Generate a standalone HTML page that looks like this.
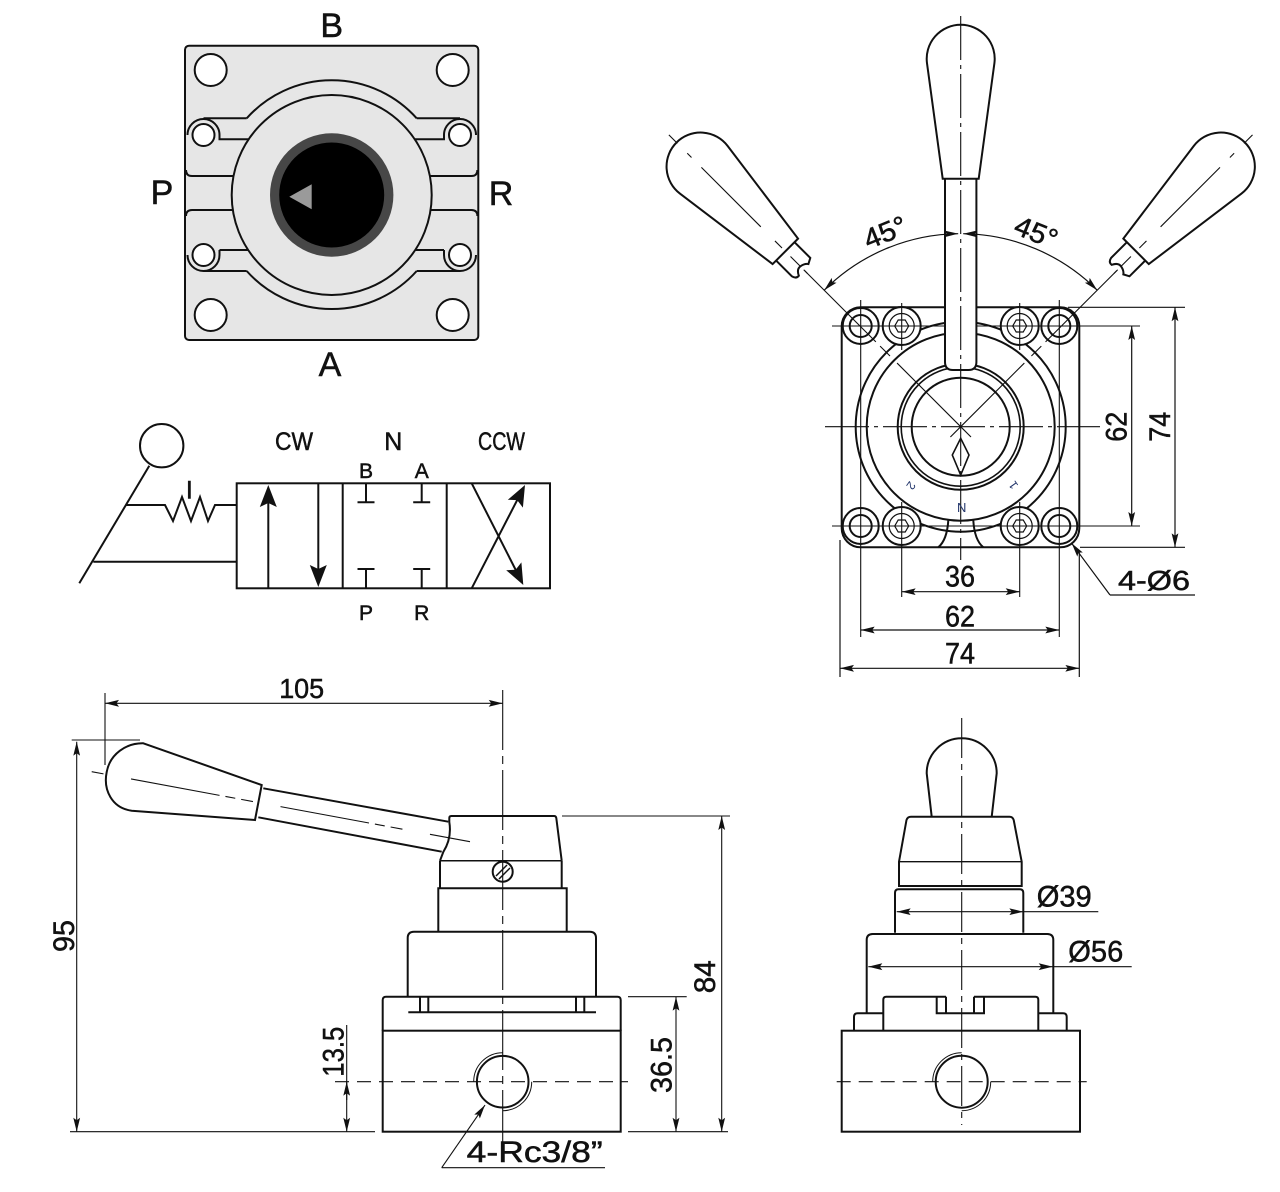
<!DOCTYPE html>
<html><head><meta charset="utf-8"><style>
html,body{margin:0;padding:0;background:#fff;}
svg{display:block;}
text{font-family:"Liberation Sans",sans-serif;fill:#111;stroke:#111;stroke-width:0.5;}
</style></head><body>
<svg width="1280" height="1192" viewBox="0 0 1280 1192" xmlns="http://www.w3.org/2000/svg">
<defs>
<marker id="a" viewBox="0 0 14 8" refX="14" refY="4" markerWidth="14" markerHeight="8" markerUnits="userSpaceOnUse" orient="auto-start-reverse"><path d="M0,0.6 L14,4 L0,7.4 L2.5,4 Z" fill="#111"/></marker>
</defs>

<!-- ============ TOP-LEFT VIEW ============ -->
<g fill="none" stroke="#111" stroke-width="2">
<rect x="185" y="45.7" width="293.3" height="294.3" rx="4" fill="#e6e6e6"/>
<circle cx="210.7" cy="70" r="16" fill="#fff"/>
<circle cx="452.7" cy="70" r="16" fill="#fff"/>
<circle cx="210.7" cy="315" r="16" fill="#fff"/>
<circle cx="452.7" cy="315" r="16" fill="#fff"/>
<path d="M246.7,118.3 A114,114 0 0 1 416.7,118.3"/>
<path d="M246.7,271 A114,114 0 0 0 416.7,271"/>
<circle cx="331.7" cy="195" r="100"/>
<path d="M203.5,118.3 H246.7"/>
<path d="M187.5,135 A16,16 0 0 1 219.5,135 V139.3 H248.6"/>
<path d="M186,170 Q186,176 192,176 H233.5"/>
<path d="M186,216 Q186,210 192,210 H232.8"/>
<path d="M219.5,250 H248.2"/>
<path d="M219.5,250 V255 A16,16 0 0 1 187.5,255"/>
<path d="M203.5,271 H246.7"/>
<circle cx="203.5" cy="135" r="11" fill="#fff"/>
<circle cx="203.5" cy="255" r="11" fill="#fff"/>
<path d="M460,118.3 H416.7"/>
<path d="M476,135 A16,16 0 0 0 444,135 V139.3 H414.8"/>
<path d="M477.4,170 Q477.4,176 471.4,176 H429.9"/>
<path d="M477.4,216 Q477.4,210 471.4,210 H430.6"/>
<path d="M444,250 H415.2"/>
<path d="M444,250 V255 A16,16 0 0 0 476,255"/>
<path d="M460,271 H416.7"/>
<circle cx="460" cy="135" r="11" fill="#fff"/>
<circle cx="460" cy="255" r="11" fill="#fff"/>
<circle cx="331.7" cy="195" r="61.7" fill="#474747" stroke="none"/>
<circle cx="331.7" cy="195" r="52.5" fill="#000" stroke="none"/>
<polygon points="289.3,196.7 311.7,184.3 311.7,209.3" fill="#9a9a9a" stroke="none"/>
</g>
<text x="331.7" y="37" font-size="34" text-anchor="middle">B</text>
<text x="330" y="376" font-size="34" text-anchor="middle">A</text>
<text x="162" y="204" font-size="34" text-anchor="middle">P</text>
<text x="501" y="205" font-size="34" text-anchor="middle">R</text>

<!-- ============ SYMBOL ============ -->
<g fill="none" stroke="#111" stroke-width="2">
<circle cx="161.7" cy="445.7" r="21.7"/>
<line x1="149.3" y1="465.7" x2="79.3" y2="583.3"/>
<polyline points="126,505 165,505 173,521 182,497 191,521 200,497 208,521 215,505 236.7,505"/>
<line x1="93.3" y1="561.7" x2="236.7" y2="561.7"/>
<rect x="236.7" y="483.3" width="313.3" height="105"/>
<line x1="342.7" y1="483.3" x2="342.7" y2="588.3"/>
<line x1="446.7" y1="483.3" x2="446.7" y2="588.3"/>
<line x1="268.3" y1="588.3" x2="268.3" y2="500"/>
<line x1="318.3" y1="483.3" x2="318.3" y2="572"/>
<path d="M366,483.3 V502.3 M357.5,502.3 H374.5"/>
<path d="M421.7,483.3 V502.3 M413.2,502.3 H430.2"/>
<path d="M366,588.3 V569 M357.5,569 H374.5"/>
<path d="M421.7,588.3 V569 M413.2,569 H430.2"/>
<line x1="471.7" y1="483.3" x2="516" y2="570.5"/>
<line x1="471.7" y1="588.3" x2="518" y2="498.5"/>
</g>
<g fill="#111">
<polygon points="268.3,485 259.8,507 268.3,503 276.8,507"/>
<polygon points="318.3,587 309.8,565 318.3,569 326.8,565"/>
<polygon points="523.3,585 521.4,562.4 515.6,569.8 506.2,570.2"/>
<polygon points="525,485 522.9,507.6 517.2,500.1 507.8,499.8"/>
</g>
<text x="275" y="450" font-size="25" textLength="38" lengthAdjust="spacingAndGlyphs">CW</text>
<text x="393.3" y="450" font-size="25" text-anchor="middle">N</text>
<text x="478" y="450" font-size="25" textLength="47" lengthAdjust="spacingAndGlyphs">CCW</text>
<text x="366" y="478" font-size="21" text-anchor="middle">B</text>
<text x="421.7" y="478" font-size="21" text-anchor="middle">A</text>
<text x="366" y="620" font-size="21" text-anchor="middle">P</text>
<text x="421.7" y="620" font-size="21" text-anchor="middle">R</text>
<text x="189.3" y="498.5" font-size="25" text-anchor="middle">I</text>

<!-- ============ TOP-RIGHT VIEW ============ -->
<g fill="none" stroke="#111" stroke-width="2">
<rect x="841.7" y="307.3" width="237.6" height="240" rx="19" fill="#fff"/>
<circle cx="960.7" cy="426.7" r="105"/>
<circle cx="901.7" cy="326" r="19" fill="#fff"/>
<circle cx="1019.7" cy="326" r="19" fill="#fff"/>
<circle cx="901.7" cy="526" r="19" fill="#fff"/>
<circle cx="1019.7" cy="526" r="19" fill="#fff"/>
<circle cx="960.7" cy="426.7" r="94"/>
<circle cx="960.7" cy="426.7" r="63"/>
<circle cx="960.7" cy="426.7" r="59.5" stroke-width="1.6"/>
<circle cx="960.7" cy="426.7" r="49"/>
<circle cx="860.7" cy="326" r="18" fill="#fff"/>
<circle cx="860.7" cy="326" r="11"/>
<circle cx="1059.3" cy="326" r="18" fill="#fff"/>
<circle cx="1059.3" cy="326" r="11"/>
<circle cx="860.7" cy="526" r="18" fill="#fff"/>
<circle cx="860.7" cy="526" r="11"/>
<circle cx="1059.3" cy="526" r="18" fill="#fff"/>
<circle cx="1059.3" cy="526" r="11"/>
<g stroke-width="1.2">
<circle cx="901.7" cy="326" r="12.5"/>
<circle cx="1019.7" cy="326" r="12.5"/>
<circle cx="901.7" cy="526" r="12.5"/>
<circle cx="1019.7" cy="526" r="12.5"/>
<polygon points="908.7,326 905.2,332 898.2,332 894.7,326 898.2,320 905.2,320"/>
<polygon points="1026.7,326 1023.2,332 1016.2,332 1012.7,326 1016.2,320 1023.2,320"/>
<polygon points="908.7,526 905.2,532 898.2,532 894.7,526 898.2,520 905.2,520"/>
<polygon points="1026.7,526 1023.2,532 1016.2,532 1012.7,526 1016.2,520 1023.2,520"/>
</g>
<path d="M948.3,520.5 Q947,540 938.3,547.3"/>
<path d="M973.3,520.5 Q974.5,540 983.3,547.3"/>
<path d="M960.7,438.3 L969,455 L960.7,475 L952.3,455 Z" stroke-width="1.6"/>
</g>
<g fill="none" stroke="#111" stroke-width="1.1">
<line x1="825" y1="426.7" x2="1100" y2="426.7" stroke-dasharray="44 5 4 5"/>
<line x1="832" y1="326" x2="1140" y2="326"/>
<line x1="832" y1="526" x2="1140" y2="526"/>
<line x1="860.7" y1="300" x2="860.7" y2="637"/>
<line x1="1059.3" y1="300" x2="1059.3" y2="637"/>
<path d="M901.7,303 V350 M901.7,502 V597 M1019.7,303 V350 M1019.7,502 V597"/>
<line x1="960.7" y1="426.7" x2="971" y2="437"/>
<line x1="960.7" y1="426.7" x2="950.4" y2="437"/>
</g>
<g fill="#fff" stroke="#111" stroke-width="2">
<path d="M945,170 V362 Q945,370 953,370 H968.4 Q976.4,370 976.4,362 V170"/>
<path d="M942.7,178.7 L927,63.3 A34,34 0 1 1 994.4,63.3 L978.7,178.7 Z"/>
</g>
<line x1="960.7" y1="16" x2="960.7" y2="560" stroke="#111" stroke-width="1.1" stroke-dasharray="44 5 4 5"/>
<g transform="rotate(-45 960.7 426.7)" fill="none" stroke="#111">
<path d="M960.7,426.7 V204.7" stroke-width="1.1" stroke-dasharray="90 10 14 6 400"/>
<path d="M947.7,178.7 V201 Q948.7,206 953,205.5 Q956,199 961,200 Q966,201 968,204 L973.7,201 V178.7" fill="#fff" stroke-width="2"/>
<path d="M942.7,178.7 L927,63.3 A34,34 0 1 1 994.4,63.3 L978.7,178.7 Z" fill="#fff" stroke-width="2"/>
<path d="M960.7,14 V210" stroke-width="1.1" stroke-dasharray="12 14 6 14 84 20 10"/>
</g>
<g transform="rotate(45 960.7 426.7)" fill="none" stroke="#111">
<path d="M960.7,426.7 V204.7" stroke-width="1.1" stroke-dasharray="90 10 14 6 400"/>
<path d="M947.7,178.7 V201 Q948.7,206 953,205.5 Q956,199 961,200 Q966,201 968,204 L973.7,201 V178.7" fill="#fff" stroke-width="2"/>
<path d="M942.7,178.7 L927,63.3 A34,34 0 1 1 994.4,63.3 L978.7,178.7 Z" fill="#fff" stroke-width="2"/>
<path d="M960.7,14 V210" stroke-width="1.1" stroke-dasharray="12 14 6 14 84 20 10"/>
</g>
<g fill="none" stroke="#111" stroke-width="1.2">
<path d="M824.2,290.2 A193,193 0 0 1 958.2,233.7" marker-start="url(#a)" marker-end="url(#a)"/>
<path d="M963.2,233.7 A193,193 0 0 1 1097.2,290.2" marker-start="url(#a)" marker-end="url(#a)"/>
</g>
<text transform="translate(885,232) rotate(-22)" x="0" y="10" font-size="28" text-anchor="middle" textLength="44" lengthAdjust="spacingAndGlyphs">45°</text>
<text transform="translate(1036.4,232) rotate(22)" x="0" y="10" font-size="28" text-anchor="middle" textLength="44" lengthAdjust="spacingAndGlyphs">45°</text>
<text x="961.7" y="512" font-size="13" text-anchor="middle" style="fill:#22356b;stroke:none">N</text>
<text transform="translate(907.7,483.3) rotate(125)" font-size="12" text-anchor="middle" style="fill:#22356b;stroke:none">2</text>
<text transform="translate(1016.7,482.7) rotate(-125)" font-size="12" text-anchor="middle" style="fill:#22356b;stroke:none">1</text>

<g fill="none" stroke="#111" stroke-width="1.2">
<path d="M1131.7,326 V526" marker-start="url(#a)" marker-end="url(#a)"/>
<path d="M1175,307.3 V547.3" marker-start="url(#a)" marker-end="url(#a)"/>
<line x1="1068" y1="307.3" x2="1185" y2="307.3"/>
<line x1="1080" y1="547.3" x2="1185" y2="547.3"/>
<line x1="840" y1="540" x2="840" y2="677"/>
<line x1="1079.3" y1="552" x2="1079.3" y2="677"/>
<path d="M901.7,591.7 H1019.7" marker-start="url(#a)" marker-end="url(#a)"/>
<path d="M860.7,630 H1059.3" marker-start="url(#a)" marker-end="url(#a)"/>
<path d="M840,668.3 H1079.3" marker-start="url(#a)" marker-end="url(#a)"/>
<path d="M1110,595 L1071.7,543.3" marker-end="url(#a)"/>
<path d="M1110,595 H1195"/>
</g>
<text transform="translate(1126.7,426.7) rotate(-90)" font-size="30" text-anchor="middle" textLength="30" lengthAdjust="spacingAndGlyphs">62</text>
<text transform="translate(1170,426.7) rotate(-90)" font-size="30" text-anchor="middle" textLength="30" lengthAdjust="spacingAndGlyphs">74</text>
<text x="960" y="586.7" font-size="30" text-anchor="middle" textLength="30" lengthAdjust="spacingAndGlyphs">36</text>
<text x="960" y="626.7" font-size="30" text-anchor="middle" textLength="30" lengthAdjust="spacingAndGlyphs">62</text>
<text x="960" y="663.3" font-size="30" text-anchor="middle" textLength="30" lengthAdjust="spacingAndGlyphs">74</text>
<text x="1118" y="590" font-size="28" textLength="72" lengthAdjust="spacingAndGlyphs">4-Ø6</text>

<!-- ============ BOTTOM-LEFT VIEW ============ -->
<g fill="none" stroke="#111" stroke-width="2">
<rect x="382.7" y="1030.7" width="238" height="101"/>
<path d="M382.7,1030.7 V1000 Q382.7,996.7 386,996.7 H617.4 Q620.7,996.7 620.7,1000 V1030.7"/>
<path d="M420,996.7 V1012.3 M428.3,996.7 V1012.3 M576,996.7 V1012.3 M584.3,996.7 V1012.3 M408.3,1012.3 H596"/>
<path d="M407.7,996.7 V938 Q407.7,931.7 414,931.7 H589.7 Q596,931.7 596,938 V996.7"/>
<path d="M438.3,931.7 V888.3 H566.7 V931.7"/>
<path d="M440,888.3 V860.7 M561.7,888.3 V860.7"/>
<line x1="440" y1="860.7" x2="561.7" y2="860.7" stroke-width="1.5"/>
<path d="M440,860.7 L443.3,852 Q452,838 449.3,822 V818 Q449.3,816 451.3,816 H554 Q556,816 556.3,818 L561.7,860.7"/>
<circle cx="502.7" cy="871.7" r="10"/>
<path d="M496,876 L507,865 M499,879 L510,868" stroke-width="1.5"/>
<circle cx="502.7" cy="1081.7" r="25.8"/>
<path d="M473.7,1081.7 A29,29 0 0 1 502.7,1052.7 M531.7,1081.7 A29,29 0 0 1 502.7,1110.7" stroke-width="1"/>
<path d="M143.3,743.3 L261.7,785 L255,820 L131.7,810.7 C112,808 103,790 106.7,772 C110,754 126,743 143.3,743.3 Z" fill="#fff"/>
<path d="M263.3,788.3 L448.3,821.7 M258.3,817.3 L441.7,851.7"/>
</g>
<g fill="none" stroke="#111" stroke-width="1.1">
<line x1="91.7" y1="771.7" x2="470" y2="841.7" stroke-dasharray="12 28 90 6 10 6"/>
<line x1="502.7" y1="690" x2="502.7" y2="1142" stroke-dasharray="60 6 8 6"/>
<line x1="335" y1="1081.7" x2="628" y2="1081.7" stroke-dasharray="14 8"/>
<path d="M105,703.3 H502.7" marker-start="url(#a)" marker-end="url(#a)"/>
<line x1="105" y1="693" x2="105" y2="765"/>
<path d="M76.7,741.7 V1131.7" marker-start="url(#a)" marker-end="url(#a)"/>
<line x1="71.7" y1="740" x2="140" y2="740"/>
<line x1="70" y1="1131.7" x2="375" y2="1131.7"/>
<path d="M346.7,1025 V1131.7" marker-end="url(#a)"/>
<path d="M346.7,1100 V1081.7" marker-end="url(#a)"/>
<path d="M676,996.7 V1131.7" marker-start="url(#a)" marker-end="url(#a)"/>
<line x1="628" y1="996.7" x2="686.7" y2="996.7"/>
<line x1="628" y1="1131.7" x2="728" y2="1131.7"/>
<path d="M721.7,816 V1131.7" marker-start="url(#a)" marker-end="url(#a)"/>
<line x1="562" y1="816" x2="730" y2="816"/>
<path d="M441.7,1167.7 L485,1105" marker-end="url(#a)"/>
<line x1="441.7" y1="1167.7" x2="605" y2="1167.7"/>
</g>
<text x="301.7" y="698" font-size="28" text-anchor="middle" textLength="45" lengthAdjust="spacingAndGlyphs">105</text>
<text transform="translate(74,936) rotate(-90)" font-size="30" text-anchor="middle" textLength="32" lengthAdjust="spacingAndGlyphs">95</text>
<text transform="translate(343.3,1051.7) rotate(-90)" font-size="30" text-anchor="middle" textLength="50" lengthAdjust="spacingAndGlyphs">13.5</text>
<text transform="translate(671.7,1065) rotate(-90)" font-size="30" text-anchor="middle" textLength="56" lengthAdjust="spacingAndGlyphs">36.5</text>
<text transform="translate(715,976.7) rotate(-90)" font-size="30" text-anchor="middle" textLength="33" lengthAdjust="spacingAndGlyphs">84</text>
<text x="466.7" y="1162" font-size="30" textLength="136" lengthAdjust="spacingAndGlyphs">4-Rc3/8”</text>

<!-- ============ BOTTOM-RIGHT VIEW ============ -->
<g fill="none" stroke="#111" stroke-width="2">
<rect x="841.7" y="1030.7" width="238.3" height="101"/>
<path d="M854,1030.7 V1017 Q854,1013.3 857.7,1013.3 H883.3 M1038.3,1013.3 H1063 Q1066.7,1013.3 1066.7,1017 V1030.7"/>
<path d="M883.3,1030.7 V999.7 Q883.3,996.7 886.3,996.7 H946 M974,996.7 H1035.3 Q1038.3,996.7 1038.3,999.7 V1030.7"/>
<path d="M936.7,996.7 V1013.3 H984 V996.7 M946,996.7 V1013.3 M974,996.7 V1013.3"/>
<path d="M866.7,1013.3 V940 Q866.7,934 872.7,934 H1047.3 Q1053.3,934 1053.3,940 V1013.3"/>
<path d="M895,932.7 V893 Q895,889.3 898.7,889.3 H1019.6 Q1023.3,889.3 1023.3,893 V932.7"/>
<path d="M899,886 V861.7 L906.5,820 Q907.5,816.7 911,816.7 H1009.5 Q1012.7,816.7 1013.7,820 L1021.7,861.7 V886 Z"/>
<line x1="899" y1="861.7" x2="1021.7" y2="861.7" stroke-width="1.4"/>
<path d="M931.7,816.7 L926.7,773.3 A35,35 0 0 1 996.7,773.3 L991.7,816.7"/>
<circle cx="961.7" cy="1081.7" r="26"/>
<path d="M932.7,1081.7 A29,29 0 0 1 961.7,1052.7 M990.7,1081.7 A29,29 0 0 1 961.7,1110.7" stroke-width="1"/>
</g>
<g fill="none" stroke="#111" stroke-width="1.1">
<line x1="961.7" y1="718" x2="961.7" y2="1125" stroke-dasharray="40 6 6 6"/>
<line x1="836.7" y1="1081.7" x2="1086.7" y2="1081.7" stroke-dasharray="14 8"/>
<path d="M896.7,911.7 H1023.3" marker-start="url(#a)" marker-end="url(#a)"/>
<line x1="1023.3" y1="911.7" x2="1098.3" y2="911.7"/>
<path d="M868.3,966.7 H1052.7" marker-start="url(#a)" marker-end="url(#a)"/>
<line x1="1052.7" y1="966.7" x2="1131.7" y2="966.7"/>
</g>
<text x="1036.7" y="906.7" font-size="30" textLength="55" lengthAdjust="spacingAndGlyphs">Ø39</text>
<text x="1068.3" y="961.7" font-size="30" textLength="55" lengthAdjust="spacingAndGlyphs">Ø56</text>
</svg>
</body></html>
